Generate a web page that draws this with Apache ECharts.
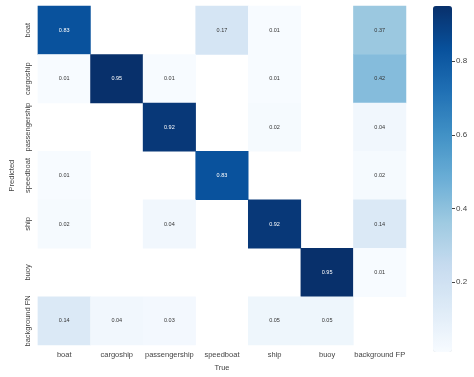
<!DOCTYPE html>
<html>
<head>
<meta charset="utf-8">
<script src="https://cdn.jsdelivr.net/npm/echarts@6/dist/echarts.min.js"></script>
<style>
	html, body { margin: 0; padding: 0; background: #fff; }
	#chart { width: 474px; height: 377px; }
</style>
</head>
<body>
<div id="chart"></div>
<script>
// 类别 (rows = predicted, columns = true)
var classes = ['boat', 'cargoship', 'passengership', 'speedboat', 'ship', 'buoy'];
var xLabels = classes.concat(['background FP']);
var yLabels = classes.concat(['background FN']);

// matrix rows, null = empty cell
var rowBoat = [0.83, null, null, 0.17, 0.01, null, 0.37];
var rowCargoship = [0.01, 0.95, 0.01, null, 0.01, null, 0.42];
var rowPassengership = [null, null, 0.92, null, 0.02, null, 0.04];
var rowSpeedboat = [0.01, null, null, 0.83, null, null, 0.02];
var rowShip = [0.02, null, 0.04, null, 0.92, null, 0.14];
var rowBuoy = [null, null, null, null, null, 0.95, 0.01];
var rowBackgroundFN = [0.14, 0.04, 0.03, null, 0.05, 0.05, null];

var colorTicks = [0.2, 0.4, 0.6, 0.8];

var rows = [rowBoat, rowCargoship, rowPassengership, rowSpeedboat, rowShip, rowBuoy, rowBackgroundFN];
var data = [];
rows.forEach(function (row, r) {
	row.forEach(function (v, c) {
		if (v === null) return;
		data.push({
			value: [c, r, v],
			label: { color: v > 0.5 ? '#fff' : '#333' }
		});
	});
});

var chart = echarts.init(document.getElementById('chart'));
chart.setOption({
	animation: false,
	textStyle: { fontFamily: 'Liberation Sans, Arial, sans-serif' },
	grid: [
		{ left: 27, top: 6, width: 379, height: 347 },
		{ left: 433, top: 6, width: 19, height: 346 }
	],
	xAxis: [{
		type: 'category',
		gridIndex: 0,
		data: xLabels,
		name: 'True',
		nameLocation: 'middle',
		nameGap: 16,
		nameTextStyle: { fontSize: 7.5, color: '#444' },
		axisLine: { show: false },
		axisTick: { show: false },
		axisLabel: { fontSize: 7.5, color: '#444', margin: 6, interval: 0 },
		splitLine: { show: false }
	}, {
		type: 'value',
		gridIndex: 1,
		show: false
	}],
	yAxis: [{
		type: 'category',
		gridIndex: 0,
		data: yLabels,
		inverse: true,
		name: 'Predicted',
		nameLocation: 'middle',
		nameGap: 18,
		nameRotate: 90,
		nameTextStyle: { fontSize: 7.5, color: '#444' },
		axisLine: { show: false },
		axisTick: { show: false },
		axisLabel: { fontSize: 7.5, color: '#444', rotate: 90, margin: 6, interval: 0 },
		splitLine: { show: false }
	}, {
		type: 'value',
		gridIndex: 1,
		position: 'right',
		min: 0.01,
		max: 0.95,
		axisLine: { show: false, onZero: false },
		axisTick: { show: true, length: 3, customValues: colorTicks, lineStyle: { color: '#444' } },
		axisLabel: { fontSize: 8, color: '#444', margin: 4, customValues: colorTicks, formatter: function (v) { return v.toFixed(1); } },
		splitLine: { show: false }
	}],
	visualMap: {
		type: 'continuous',
		min: 0.01,
		max: 0.95,
		seriesIndex: 0,
		left: 433,
		top: 6,
		padding: 0,
		itemWidth: 19,
		itemHeight: 346,
		calculable: false,
		showLabel: false,
		text: null,
		inRange: {
			color: ['#f7fbff', '#deebf7', '#c6dbef', '#9ecae1', '#6baed6', '#4292c6', '#2171b5', '#08519c', '#08306b']
		}
	},
	series: [{
		type: 'heatmap',
		xAxisIndex: 0,
		yAxisIndex: 0,
		data: data,
		label: {
			show: true,
			fontSize: 5.5,
			formatter: function (p) { return p.value[2].toFixed(2); }
		}
	}]
});
</script>
</body>
</html>
